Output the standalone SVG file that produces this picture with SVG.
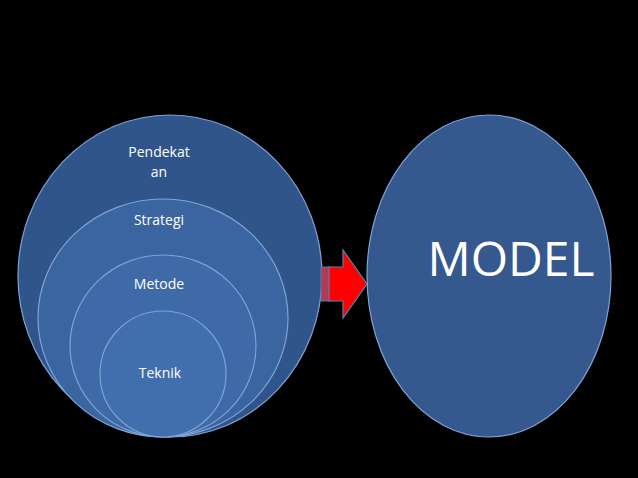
<svg xmlns="http://www.w3.org/2000/svg" width="638" height="478" viewBox="0 0 638 478">
<defs>
<style>
.c{stroke:#7fa3d3;stroke-width:1.2}
.t{font-family:"Open Sans","Noto Sans",sans-serif;fill:#fff;text-anchor:middle}
</style>
</defs>
<rect width="638" height="478" fill="#000"/>
<g id="pendekatan"><ellipse class="c" cx="170" cy="276" rx="152" ry="161" fill="#30558a" stroke="#5b7fb0"/><text class="t" x="159" y="157" font-size="14">Pendekat</text><text class="t" x="159" y="177" font-size="14">an</text></g>
<g id="strategi"><ellipse class="c" cx="163" cy="318" rx="125" ry="119" fill="#3a65a0"/><text class="t" x="159" y="225" font-size="14">Strategi</text></g>
<g id="metode"><ellipse class="c" cx="163" cy="346" rx="93" ry="91" fill="#3e6ba8"/><text class="t" x="159" y="289" font-size="14">Metode</text></g>
<g id="teknik"><ellipse class="c" cx="163" cy="374" rx="63" ry="63" fill="#416fad"/><text class="t" x="160" y="378" font-size="14">Teknik</text></g>
<g id="connectors"><rect x="321" y="267" width="10" height="34" fill="#b03a55" stroke="#5a7db0"/><polygon points="329,267 343,267 343,250 367,284 343,318 343,301 329,301" fill="#f00" stroke="#5a7db0" stroke-width="1.2"/></g>
<g id="model"><ellipse cx="489" cy="276" rx="122" ry="161" fill="#35598f" stroke="#7fa3d3" stroke-width="1.2"/><text class="t" x="511" y="276" font-size="48">MODEL</text></g>
</svg>
